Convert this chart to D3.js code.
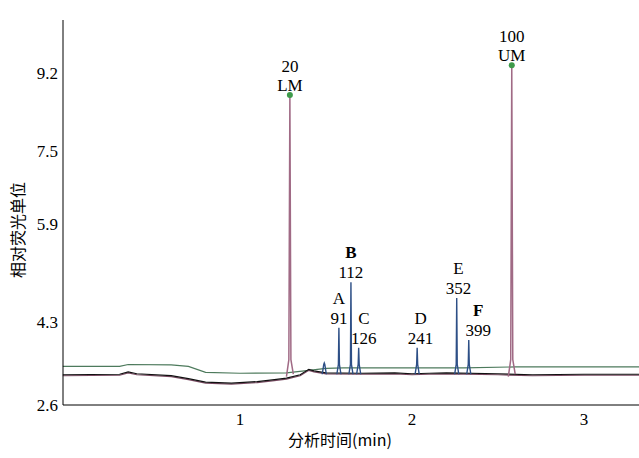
<!DOCTYPE html><html><head><meta charset="utf-8"><script src="https://cdn.jsdelivr.net/npm/d3@7"></script>
<style>body{margin:0;background:#fff}svg{display:block}</style></head><body><svg id="c" width="639" height="458"></svg>
<script>
const yTicks=[2.6,4.3,5.9,7.5,9.2];
const xTicks=[1,2,3];
const greenTrace=[[-0.03,3.39],[0.3,3.39],[0.35,3.43],[0.6,3.42],[0.7,3.39],[0.8,3.27],[1.0,3.25],[1.27,3.26],[1.4,3.31],[1.5,3.35],[1.6,3.36],[2.0,3.36],[2.3,3.36],[2.6,3.38],[3.32,3.38]];
const blackTrace=[[-0.03,3.22],[0.3,3.23],[0.35,3.28],[0.4,3.24],[0.6,3.2],[0.7,3.14],[0.8,3.07],[0.95,3.05],[1.1,3.08],[1.2,3.12],[1.27,3.15],[1.35,3.22],[1.4,3.33],[1.43,3.3],[1.5,3.26],[1.7,3.25],[1.9,3.26],[2.0,3.24],[2.1,3.25],[2.2,3.26],[2.5,3.24],[2.7,3.22],[3.0,3.23],[3.32,3.23]];
const pinkPeaks=[{t:1.29,v:8.72},{t:2.58,v:9.37}];
const bluePeaks=[{t:1.575,v:4.18},{t:1.645,v:4.95},{t:1.69,v:3.77},{t:2.03,v:3.77},{t:2.26,v:4.69},{t:2.33,v:3.93},{t:1.49,v:3.46}];
const labels=[
 {t:1.29,v:8.72,a:"20",b:"LM",bold:false,gap:19},
 {t:2.58,v:9.37,a:"100",b:"UM",bold:false,gap:19},
 {t:1.645,v:4.95,a:"B",b:"112",bold:true,gap:20},
 {t:1.575,v:4.18,a:"A",b:"91",bold:false,gap:20},
 {t:1.72,v:3.77,a:"C",b:"126",bold:false,gap:20},
 {t:2.05,v:3.77,a:"D",b:"241",bold:false,gap:20},
 {t:2.27,v:4.69,a:"E",b:"352",bold:false,gap:20},
 {t:2.385,v:3.93,a:"F",b:"399",bold:true,gap:20}];
const svg=d3.select("#c");
const x=d3.scaleLinear().domain([0,3]).range([68,584]);
const y=d3.scaleLinear().domain(yTicks).range([405,322,224,151,73]);
const f="'Liberation Serif','DejaVu Serif',serif";
const line=d3.line().x(d=>x(d[0])).y(d=>y(d[1]));
svg.append("path").attr("d",line(greenTrace)).attr("fill","none").attr("stroke","#4d7a5c").attr("stroke-width",1.2);
svg.append("path").attr("d",line(blackTrace)).attr("fill","none").attr("stroke","#7a4a62").attr("stroke-width",1.2).attr("transform","translate(0,1)");
svg.append("path").attr("d",line(blackTrace)).attr("fill","none").attr("stroke","#111").attr("stroke-width",1.2);
const base=3.23;
pinkPeaks.forEach(p=>{svg.append("path").attr("d",line([[p.t-0.02,base-0.05],[p.t-0.006,base+0.3],[p.t,p.v],[p.t+0.006,base+0.3],[p.t+0.02,base]])).attr("fill","none").attr("stroke","#a06a85").attr("stroke-width",1.5);
 svg.append("circle").attr("cx",x(p.t)).attr("cy",y(p.v)).attr("r",3).attr("fill","#3d9a4a");});
bluePeaks.forEach(p=>{svg.append("path").attr("d",line([[p.t-0.012,base],[p.t-0.003,base+0.2],[p.t,p.v],[p.t+0.003,base+0.2],[p.t+0.012,base]])).attr("fill","none").attr("stroke","#2d4f86").attr("stroke-width",1.4);});
labels.forEach(l=>{const px=x(l.t),py=y(l.v);
 svg.append("text").attr("x",px).attr("y",py-4-l.gap).attr("text-anchor","middle").attr("font-family",f).attr("font-size",17).attr("font-weight",l.bold?"bold":"normal").text(l.a);
 svg.append("text").attr("x",px).attr("y",py-4).attr("text-anchor","middle").attr("font-family",f).attr("font-size",17).text(l.b);});
svg.append("line").attr("x1",63).attr("x2",63).attr("y1",20).attr("y2",405).attr("stroke","#000");
svg.append("line").attr("x1",63).attr("x2",639).attr("y1",405).attr("y2",405).attr("stroke","#000");
yTicks.forEach(t=>svg.append("text").attr("x",58).attr("y",y(t)+6).attr("text-anchor","end").attr("font-family",f).attr("font-size",17).text(t.toFixed(1)));
xTicks.forEach(t=>svg.append("text").attr("x",x(t)).attr("y",425).attr("text-anchor","middle").attr("font-family",f).attr("font-size",17).text(t));
svg.append("text").attr("transform","translate(24,230) rotate(-90)").attr("text-anchor","middle").attr("font-family","'Noto Sans CJK SC',serif").attr("font-size",16).text("相对荧光单位");
svg.append("text").attr("x",340).attr("y",446).attr("text-anchor","middle").attr("font-family","'Noto Sans CJK SC',serif").attr("font-size",16).text("分析时间(min)");
</script></body></html>
